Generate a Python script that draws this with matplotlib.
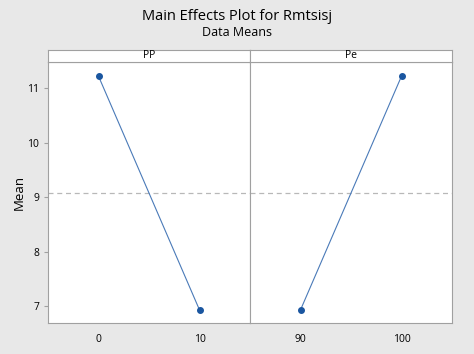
import matplotlib
matplotlib.use("Agg")
import matplotlib.pyplot as plt

plt.rcParams['font.family'] = ['Open Sans', 'DejaVu Sans']

factors = ["PP", "Pe"]
levels = [["0", "10"], ["90", "100"]]
means = [[11.22, 6.93], [6.93, 11.22]]
grand_mean = 9.08
yticks = [7, 8, 9, 10, 11]

fig = plt.figure(figsize=(4.74, 3.54), dpi=100)
fig.patch.set_facecolor('#e8e8e8')

L, R = 48/474, 452/474
B, T = 1 - 323/354, 1 - 62/354
ST = 1 - 50/354
W = (R - L) / 2

fig.text(0.5, 1 - 17/354, "Main Effects Plot for Rmtsisj", ha='center', va='center', fontsize=10.5)
fig.text(0.5, 1 - 32/354, "Data Means", ha='center', va='center', fontsize=9)

edge = '#a0a0a0'
for i, f in enumerate(factors):
    ax = fig.add_axes([L + i*W, B, W, T - B])
    ax.set_facecolor('white')
    x = list(range(len(levels[i])))
    ax.plot(x, means[i], color='#4a7ab8', lw=0.8, zorder=2)
    ax.plot(x, means[i], 'o', color='#1a56a0', ms=4, zorder=3)
    ax.axhline(grand_mean, color='#b8b8b8', lw=0.9, ls=(0, (4, 3)), zorder=1)
    ax.set_xlim(-0.5, 1.5)
    ax.set_ylim(6.69, 11.48)
    ax.set_xticks(x)
    ax.set_xticklabels(levels[i])
    ax.tick_params(axis='x', length=0, labelsize=7.5, pad=8)
    if i == 0:
        ax.set_yticks(yticks)
        ax.tick_params(axis='y', length=3, labelsize=7.5, color=edge)
        ax.set_ylabel("Mean", fontsize=9.5, labelpad=1)
    else:
        ax.set_yticks([])
    for s in ax.spines.values():
        s.set_color(edge)
        s.set_linewidth(0.8)
    sax = fig.add_axes([L + i*W, T, W, ST - T])
    sax.set_facecolor('white')
    sax.set_xticks([]); sax.set_yticks([])
    for s in sax.spines.values():
        s.set_color(edge)
        s.set_linewidth(0.8)
    sax.text(0.5, 0.5, f, ha='center', va='center', fontsize=7.5, transform=sax.transAxes)

fig.savefig("out.png", dpi=100, facecolor=fig.get_facecolor())
